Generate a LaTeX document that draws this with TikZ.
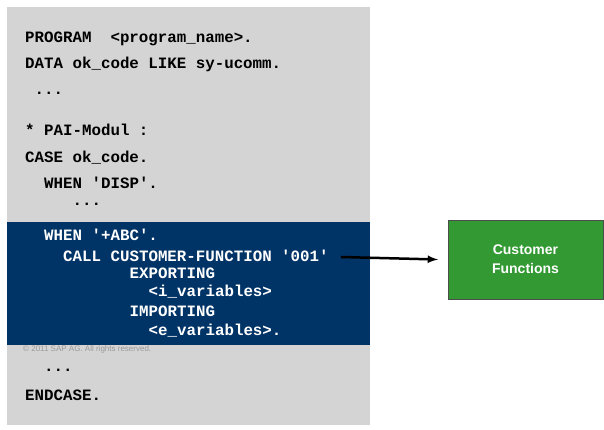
\documentclass[tikz,border=0pt]{standalone}
\usepackage{fontspec}
\setmainfont{Liberation Sans}
\newfontfamily\codefont{Liberation Mono}
\definecolor{panel}{HTML}{D4D4D4}
\definecolor{band}{HTML}{003366}
\definecolor{sapgreen}{HTML}{339933}
\begin{document}
\begin{tikzpicture}[x=1pt,y=-1pt,
  code/.style={anchor=west,inner sep=0pt,font=\codefont\bfseries\fontsize{15.8}{16}\selectfont},
  wcode/.style={code,text=white}]
\useasboundingbox (0,0) rectangle (604,430);
\fill[panel] (7,7) rectangle (370,425);
\fill[band] (7,222) rectangle (370,345);
\def\cx#1{25+#1*9.5}
\node[code] (l1) at ({\cx{0}},39) {PROGRAM\ \ <program\_name>.};
\node[code] (l2) at ({\cx{0}},64) {DATA ok\_code LIKE sy-ucomm.};
\node[code] (l3) at ({\cx{1}},93) {...};
\node[code] (l4) at ({\cx{0}},130) {* PAI-Modul :};
\node[code] (l5) at ({\cx{0}},158) {CASE ok\_code.};
\node[code] (l6) at ({\cx{2}},183) {WHEN 'DISP'.};
\node[code] (l7) at ({\cx{5}},204) {...};
\node[wcode] (l8) at ({\cx{2}},235) {WHEN '+ABC'.};
\node[wcode] (l9) at ({\cx{4}},256) {CALL CUSTOMER-FUNCTION '001'};
\node[wcode] (l10) at ({\cx{11}},273) {EXPORTING};
\node[wcode] (l11) at ({\cx{13}},292) {<i\_variables>};
\node[wcode] (l12) at ({\cx{11}},311) {IMPORTING};
\node[wcode] (l13) at ({\cx{13}},331) {<e\_variables>.};
\node[anchor=west,inner sep=0pt,text=gray!80,font=\fontsize{8}{9}\selectfont] (cp) at (23,349) {\textcopyright\ 2011 SAP AG. All rights reserved.};
\node[code] (l14) at ({\cx{2}},370) {...};
\node[code] (l15) at ({\cx{0}},395) {ENDCASE.};
\node[draw=black!70,fill=sapgreen,minimum width=155,minimum height=79,inner sep=0pt,
  text=white,align=center,font=\bfseries\fontsize{14}{19}\selectfont] (cf) at (525.5,259.5) {Customer\\Functions};
\draw[line width=2.5pt,-{latex}] (l9.east)++(12,1) coordinate (s) (s) -- (cf.west -| 438,0) ;
\end{tikzpicture}
\end{document}
